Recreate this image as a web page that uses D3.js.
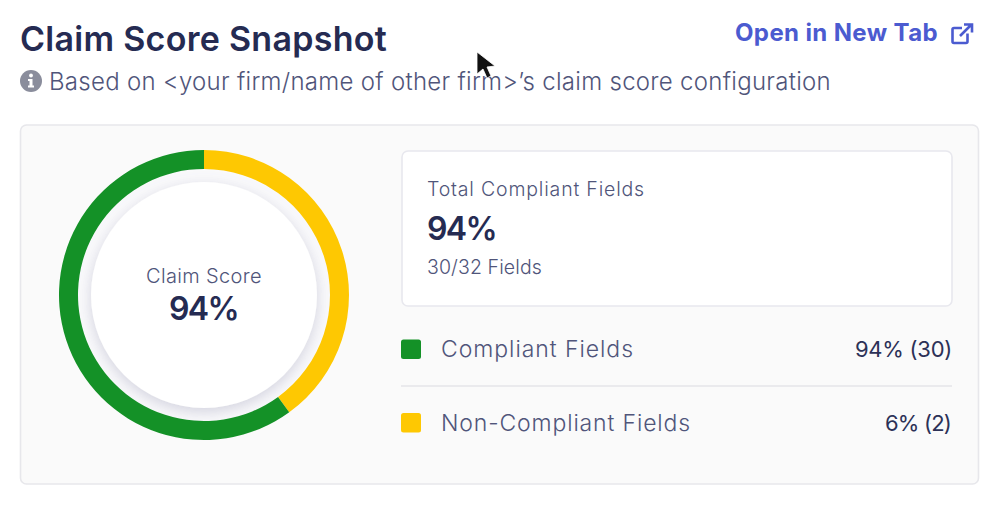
<!DOCTYPE html>
<html><head><meta charset="utf-8">
<script src="https://cdn.jsdelivr.net/npm/d3@7"></script>
<style>html,body{margin:0;padding:0;background:#fff;overflow:hidden}svg{display:block}text{font-family:Inter,"Open Sans",sans-serif}</style>
</head><body><div id="c"></div>
<script>
const ringCategories = ["Non-Compliant Fields", "Compliant Fields"]; // clockwise from 12 o'clock
const ringValues = [40, 60]; // arc shares as drawn in the picture
const ringColors = ["#fec802", "#149127"];
const legendLabels = ["Compliant Fields", "Non-Compliant Fields"];
const legendValues = ["94% (30)", "6% (2)"];
const legendColors = ["#149127", "#fec802"];
const scoreLabel = "94%";

const dark = "#252b52", gray = "#50557a";
const svg = d3.select("#c").append("svg").attr("width", 1000).attr("height", 506);
const defs = svg.append("defs");
const f = defs.append("filter").attr("id", "sh").attr("x", "-20%").attr("y", "-20%").attr("width", "140%").attr("height", "140%");
f.append("feDropShadow").attr("dx", 0).attr("dy", 4).attr("stdDeviation", 7).attr("flood-color", "#7a7c9c").attr("flood-opacity", 0.3);

function txt(s, x, y, size, weight, color, width, anchor) {
  const t = svg.append("text").attr("x", x).attr("y", y).attr("font-size", size)
    .attr("font-weight", weight).attr("fill", color).attr("text-anchor", anchor || "start").text(s);
  if (width) {
    const w = t.node().getComputedTextLength();
    t.attr("letter-spacing", ((width - w) / s.length).toFixed(3));
  }
  return t;
}

// header
txt("Claim Score Snapshot", 20, 51, 34, 600, dark, 367);
svg.append("circle").attr("cx", 31).attr("cy", 81).attr("r", 11).attr("fill", "#8a8d9c");
svg.append("circle").attr("cx", 31).attr("cy", 75.5).attr("r", 1.9).attr("fill", "#fff");
svg.append("path").attr("d", "M28 79h4.5v6.5h1.5v2h-6v-2h1.5v-4.5h-1.5z").attr("fill", "#fff");
txt("Based on <your firm/name of other firm>\u2019s claim score configuration", 49, 90, 24, 300, gray, 782);
txt("Open in New Tab", 735, 41, 24, 700, "#4b5bd0", 203);
svg.append("path").attr("fill", "none").attr("stroke", "#4b5bd0").attr("stroke-width", 2.6)
  .attr("d", "M962 28h-8a1.5 1.5 0 0 0-1.5 1.5v12a1.5 1.5 0 0 0 1.5 1.5h12a1.5 1.5 0 0 0 1.5-1.5v-8M960 36l11-11M964 24.5h8v8");

// panel
svg.append("rect").attr("x", 20.5).attr("y", 125).attr("width", 958).attr("height", 359).attr("rx", 6)
  .attr("fill", "#fafafa").attr("stroke", "#e7e7eb").attr("stroke-width", 1.6);

// donut
const g = svg.append("g").attr("transform", "translate(204,295)");
g.append("circle").attr("r", 127).attr("fill", "#f9f9fb");
g.append("circle").attr("r", 113).attr("fill", "#fff").attr("filter", "url(#sh)");
const pie = d3.pie().sort(null).value(d => d);
const arc = d3.arc().innerRadius(126).outerRadius(145);
g.selectAll("path.s").data(pie(ringValues)).join("path").attr("class", "s")
  .attr("d", arc).attr("fill", (d, i) => ringColors[i]);
txt("Claim Score", 146, 283, 20, 300, gray, 116);
txt(scoreLabel, 169, 320, 32, 600, dark, 69);

// summary box
svg.append("rect").attr("x", 402).attr("y", 151).attr("width", 550).attr("height", 155).attr("rx", 6)
  .attr("fill", "#fff").attr("stroke", "#e8e8ee").attr("stroke-width", 1.6);
txt("Total Compliant Fields", 427, 196, 19.5, 300, gray, 218);
txt(scoreLabel, 427, 240, 32, 600, dark, 69);
txt("30/32 Fields", 427, 274, 19.5, 300, gray, 115);

// legend
const swatchY = d3.scalePoint().domain(legendLabels).range([339.5, 413]);
const baseY = d3.scalePoint().domain(legendLabels).range([357, 431]);
const labelW = [193, 250], valueX = [855, 885], valueW = [97, 66];
svg.selectAll("rect.sw").data(legendLabels).join("rect").attr("class", "sw")
  .attr("x", 401).attr("y", d => swatchY(d)).attr("width", 20).attr("height", 19.5).attr("rx", 2.5)
  .attr("fill", (d, i) => legendColors[i]);
legendLabels.forEach((d, i) => {
  txt(d, 441, baseY(d), 23, 300, gray, labelW[i]);
  txt(legendValues[i], valueX[i], baseY(d), 22, 400, "#2c3157", valueW[i]);
});
svg.append("line").attr("x1", 401).attr("x2", 952).attr("y1", 386).attr("y2", 386)
  .attr("stroke", "#e4e4e8").attr("stroke-width", 1.5);

// mouse cursor
svg.append("path").attr("d", "M477 52l0 22l6-5l4 9l4-2l-4-9l8-1z").attr("fill", "#111").attr("stroke", "#fff").attr("stroke-width", 0.8);
</script></body></html>
